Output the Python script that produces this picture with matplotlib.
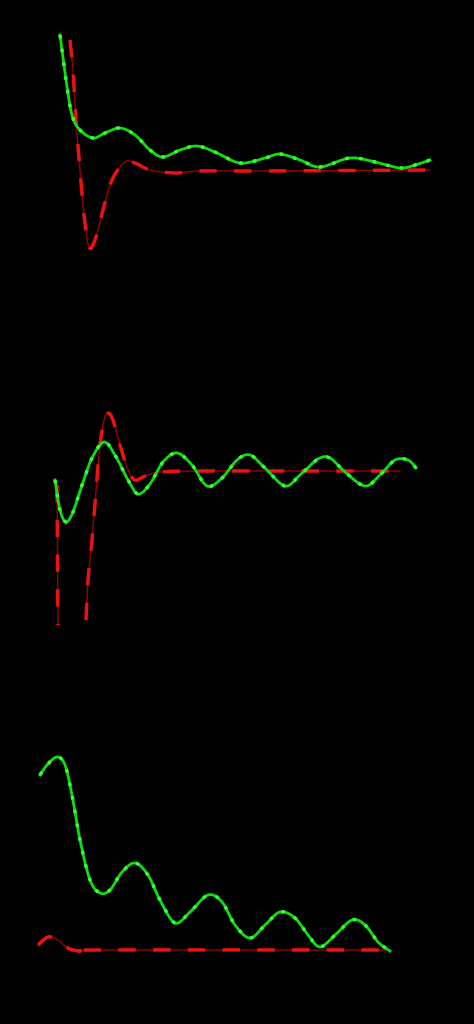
import numpy as np
import matplotlib
matplotlib.use("Agg")
import matplotlib.pyplot as plt

# values (x: time position, y: vertical position, downward)
p1_green_x = [60, 66, 72, 80, 93, 105, 120, 135, 150, 163, 180, 197, 215, 240, 265, 280, 300, 320, 350, 375, 400, 415, 430]
p1_green_y = [35, 80, 115, 130, 138, 133, 128, 135, 150, 157, 150, 146, 152, 163, 158, 154, 160, 167, 158, 162, 168, 165, 160]
p1_red_x = [70, 73, 76, 80, 84, 89, 95, 103, 112, 125, 135, 150, 175, 200, 260, 430]
p1_red_y = [40, 70, 120, 170, 215, 247, 240, 210, 180, 162, 163, 170, 173, 171, 171, 170]

p2_green_x = [55, 60, 66, 73, 82, 92, 104, 115, 128, 138, 150, 163, 177, 192, 207, 222, 237, 250, 265, 285, 300, 318, 330, 345, 365, 380, 395, 408, 416]
p2_green_y = [480, 510, 522, 512, 485, 458, 442, 455, 480, 494, 484, 462, 453, 465, 486, 478, 460, 455, 468, 486, 475, 459, 458, 472, 486, 475, 460, 460, 468]
p2_red_x = [86, 88, 92, 96, 100, 104, 108, 113, 120, 128, 135, 145, 160, 200, 300, 400]
p2_red_y = [620, 580, 540, 490, 445, 420, 413, 420, 445, 470, 480, 476, 472, 471, 471, 471]
p2_red2_x = [57, 57.5, 58]
p2_red2_y = [485, 560, 625]

p3_green_x = [40, 47, 57, 65, 72, 80, 90, 100, 110, 122, 135, 148, 160, 175, 190, 208, 222, 235, 250, 265, 280, 295, 308, 320, 335, 352, 365, 378, 390]
p3_green_y = [775, 765, 757, 765, 795, 840, 880, 893, 890, 872, 863, 875, 900, 923, 912, 895, 902, 925, 938, 925, 912, 918, 935, 947, 935, 920, 925, 942, 951]
p3_red_x = [38, 48, 58, 68, 80, 100, 390]
p3_red_y = [945, 937, 940, 948, 951, 950, 950]


def smooth(xs, ys, n=12):
    # Catmull-Rom through the read points, only for drawing a smooth line
    p = np.column_stack([xs, ys]).astype(float)
    if len(p) < 3:
        return p[:, 0], p[:, 1]
    p = np.vstack([p[0], p, p[-1]])
    out = []
    t = np.linspace(0, 1, n, endpoint=False)[:, None]
    for i in range(1, len(p) - 2):
        p0, p1, p2, p3 = p[i - 1], p[i], p[i + 1], p[i + 2]
        out.append(0.5 * (2 * p1 + (-p0 + p2) * t + (2 * p0 - 5 * p1 + 4 * p2 - p3) * t ** 2
                          + (-p0 + 3 * p1 - 3 * p2 + p3) * t ** 3))
    out.append(p[-2][None, :])
    out = np.vstack(out)
    return out[:, 0], out[:, 1]


fig = plt.figure(figsize=(4.74, 10.24), dpi=100, facecolor="black")

panels = [
    (p1_green_x, p1_green_y, [(p1_red_x, p1_red_y)], (0, 341)),
    (p2_green_x, p2_green_y, [(p2_red_x, p2_red_y), (p2_red2_x, p2_red2_y)], (341, 682)),
    (p3_green_x, p3_green_y, [(p3_red_x, p3_red_y)], (682, 1024)),
]

for gx, gy, reds, (top, bottom) in panels:
    ax = fig.add_axes([0, 1 - bottom / 1024, 1, (bottom - top) / 1024])
    ax.set_facecolor("black")
    ax.set_xlim(0, 474)
    ax.set_ylim(bottom, top)
    ax.axis("off")
    for rx, ry in reds:
        sx, sy = smooth(rx, ry)
        ax.plot(sx, sy, color="#990000", lw=1)
        ax.plot(sx, sy, color="#ee1111", lw=2.5, linestyle=(0, (5, 5)))
    sx, sy = smooth(gx, gy)
    ax.plot(sx, sy, color="#11dd11", lw=2)
    ax.plot(sx, sy, color="#33ff33", lw=2.5, linestyle=(0, (1, 3)))

fig.savefig("out.png", dpi=100, facecolor="black")
